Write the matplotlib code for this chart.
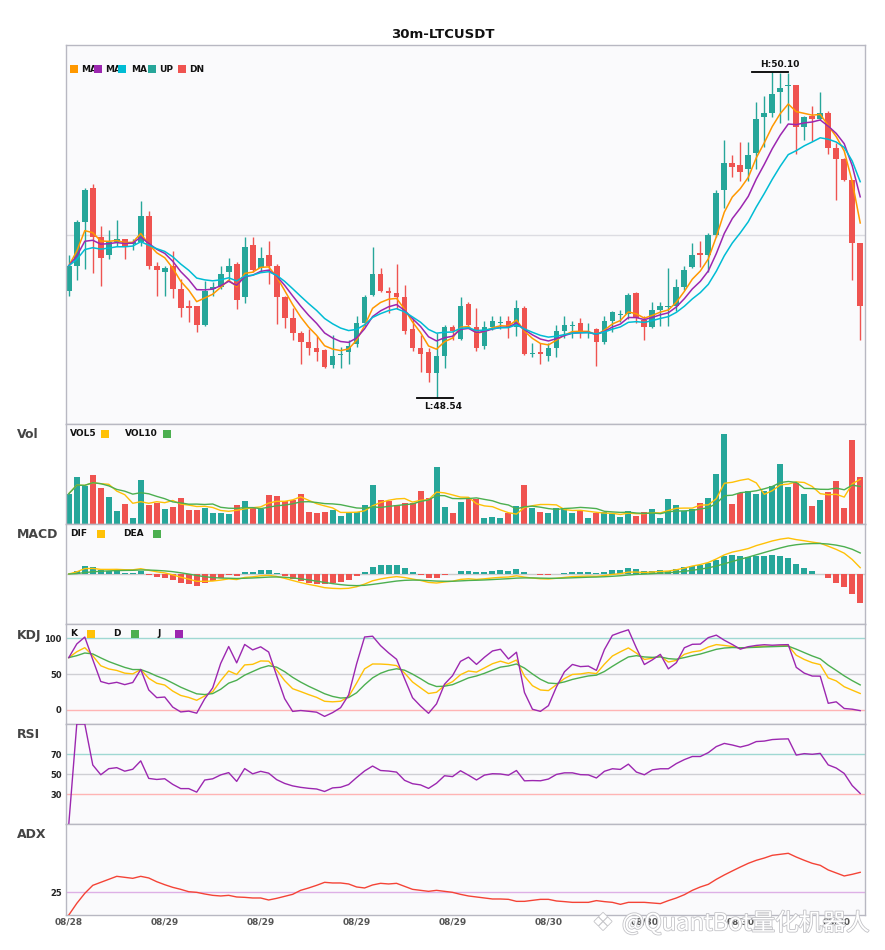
import numpy as np
import pandas as pd
import matplotlib
matplotlib.use('Agg')
import matplotlib.pyplot as plt
from matplotlib.patches import Rectangle
from matplotlib.transforms import Bbox, TransformedBbox
import matplotlib.patheffects as pe

# ---------------- data ----------------
opens = [49.052, 49.171, 49.382, 49.544, 49.310, 49.224, 49.286, 49.300, 49.276, 49.286,
         49.410, 49.171, 49.143, 49.171, 49.061, 48.980, 48.980, 48.889, 49.061, 49.071,
         49.143, 49.181, 49.023, 49.272, 49.162, 49.224, 49.171, 49.023, 48.922, 48.851,
         48.808, 48.779, 48.769, 48.698, 48.745, 48.760, 48.798, 48.899, 49.033, 49.133,
         49.052, 49.042, 49.023, 48.870, 48.779, 48.760, 48.659, 48.741, 48.879, 48.822,
         48.989, 48.879, 48.789, 48.879, 48.899, 48.908, 48.879, 48.970, 48.750, 48.760,
         48.741, 48.779, 48.860, 48.884, 48.899, 48.851, 48.870, 48.808, 48.908, 48.937,
         48.942, 49.042, 48.913, 48.879, 48.961, 48.975, 48.980, 49.071, 49.166, 49.233,
         49.224, 49.320, 49.535, 49.664, 49.654, 49.635, 49.712, 49.884, 49.903, 50.004,
         50.033, 50.037, 49.836, 49.889, 49.875, 49.903, 49.736, 49.683, 49.583, 49.281]
highs = [49.224, 49.391, 49.544, 49.564, 49.363, 49.343, 49.391, 49.300, 49.300, 49.482,
         49.434, 49.190, 49.171, 49.243, 49.109, 49.009, 48.980, 49.100, 49.095, 49.171,
         49.209, 49.190, 49.310, 49.310, 49.262, 49.291, 49.181, 49.028, 48.970, 48.860,
         48.870, 48.836, 48.774, 48.841, 48.784, 48.817, 48.932, 49.033, 49.262, 49.162,
         49.071, 49.181, 49.080, 48.922, 48.841, 48.779, 48.851, 48.889, 48.889, 49.023,
         48.999, 48.970, 48.908, 48.932, 48.932, 48.932, 49.009, 48.980, 48.803, 48.803,
         48.803, 48.889, 48.932, 48.908, 48.922, 48.899, 48.875, 48.932, 48.956, 48.961,
         49.042, 49.047, 48.932, 48.999, 48.999, 49.162, 49.109, 49.171, 49.281, 49.291,
         49.329, 49.535, 49.774, 49.702, 49.765, 49.765, 49.956, 49.985, 50.100, 50.095,
         50.095, 50.037, 49.889, 49.937, 50.004, 49.913, 49.760, 49.688, 49.583, 49.281]
lows = [49.028, 49.104, 49.157, 49.138, 49.076, 49.205, 49.267, 49.205, 49.248, 49.267,
        49.157, 49.028, 49.028, 49.018, 48.927, 48.903, 48.856, 48.884, 49.028, 49.061,
        49.104, 48.966, 48.994, 49.143, 49.143, 49.085, 48.894, 48.875, 48.817, 48.702,
        48.745, 48.717, 48.683, 48.683, 48.683, 48.702, 48.784, 48.884, 49.028, 49.047,
        48.946, 48.966, 48.846, 48.765, 48.664, 48.616, 48.540, 48.683, 48.817, 48.817,
        48.884, 48.765, 48.774, 48.865, 48.870, 48.827, 48.836, 48.745, 48.736, 48.702,
        48.717, 48.736, 48.827, 48.827, 48.827, 48.827, 48.693, 48.798, 48.856, 48.903,
        48.918, 48.899, 48.817, 48.875, 48.884, 48.884, 48.956, 49.056, 49.162, 49.166,
        49.143, 49.310, 49.449, 49.597, 49.578, 49.578, 49.635, 49.741, 49.884, 49.855,
        49.870, 49.707, 49.774, 49.769, 49.870, 49.707, 49.487, 49.578, 49.104, 48.817]
closes = [49.171, 49.382, 49.535, 49.310, 49.209, 49.286, 49.300, 49.262, 49.286, 49.410,
          49.171, 49.152, 49.162, 49.061, 48.970, 48.970, 48.889, 49.052, 49.071, 49.133,
          49.171, 49.009, 49.262, 49.152, 49.209, 49.171, 49.023, 48.922, 48.851, 48.808,
          48.779, 48.760, 48.688, 48.741, 48.750, 48.789, 48.899, 49.023, 49.133, 49.052,
          49.042, 49.023, 48.860, 48.779, 48.750, 48.659, 48.741, 48.879, 48.860, 48.980,
          48.889, 48.779, 48.879, 48.908, 48.903, 48.879, 48.970, 48.750, 48.755, 48.750,
          48.779, 48.860, 48.889, 48.889, 48.860, 48.856, 48.808, 48.908, 48.951, 48.942,
          49.033, 48.922, 48.879, 48.961, 48.980, 48.980, 49.071, 49.152, 49.224, 49.224,
          49.320, 49.521, 49.664, 49.645, 49.621, 49.702, 49.875, 49.903, 49.994, 50.023,
          50.037, 49.836, 49.884, 49.875, 49.903, 49.736, 49.683, 49.583, 49.281, 48.980]
volumes = [30.3, 47.3, 38.3, 49.3, 36.3, 27.3, 13.3, 20.3, 6.3, 44.3,
           19.3, 21.3, 15.3, 17.3, 26.3, 14.3, 14.3, 16.3, 11.3, 11.3,
           10.3, 19.3, 23.3, 17.3, 15.3, 29.3, 28.3, 23.3, 24.3, 30.3,
           12.3, 11.3, 12.3, 14.3, 7.7, 12.3, 12.3, 19.3, 39.3, 24.3,
           23.3, 19.3, 21.3, 21.3, 33.3, 26.3, 57.3, 17.3, 11.3, 22.3,
           25.3, 25.3, 6.3, 7.3, 6.3, 11.3, 18.3, 39.3, 16.3, 12.3,
           11.3, 16.3, 16.3, 11.3, 13.3, 6.3, 11.3, 12.3, 10.3, 7.3,
           13.3, 8.3, 12.3, 15.3, 6.3, 25.3, 19.3, 13.3, 15.3, 21.3,
           26.3, 50.3, 90.3, 20.3, 31.3, 33.3, 30.3, 33.3, 38.3, 60.3,
           37.3, 41.3, 30.3, 18.3, 24.3, 32.3, 43.3, 16.3, 84.3, 47.3]
adx_values = [0.0, 12.8, 23.8, 32.6, 35.9, 39.2, 42.5, 41.4, 40.3, 42.5,
              40.7, 36.6, 33.3, 30.4, 28.2, 25.6, 24.9, 23.1, 21.6, 20.9,
              21.6, 19.8, 19.4, 18.7, 18.7, 16.5, 18.3, 20.5, 22.7, 27.1,
              29.7, 32.6, 35.9, 35.2, 35.2, 34.1, 30.8, 29.7, 33.0, 34.8,
              34.1, 34.8, 31.5, 28.2, 27.1, 26.0, 27.1, 26.0, 24.9, 22.7,
              20.9, 19.8, 18.7, 17.6, 17.6, 17.2, 15.0, 15.0, 16.1, 17.2,
              17.2, 15.4, 14.7, 13.9, 13.9, 13.9, 15.8, 14.7, 13.9, 11.7,
              13.9, 13.9, 13.9, 13.2, 12.5, 15.8, 18.7, 22.3, 27.1, 30.8,
              33.7, 39.2, 44.0, 48.4, 52.7, 56.8, 60.1, 62.6, 65.6, 66.7,
              67.8, 63.7, 60.1, 56.8, 54.6, 49.5, 46.2, 42.9, 44.7, 46.9]
xtick_labels = ['08/28', '08/29', '08/29', '08/29', '08/29', '08/30', '08/30', '08/30', '08/30']
ma_periods = [5, 8, 13]
title = '30m-LTCUSDT'

# ---------------- indicators ----------------
df = pd.DataFrame({'open': opens, 'high': highs, 'low': lows, 'close': closes, 'vol': volumes})
n = len(df)
x = np.arange(n)
c = df['close']
up = (df['close'] >= df['open']).values

mas = [c.ewm(span=p, adjust=False).mean() for p in ma_periods]
vol5 = df['vol'].rolling(5, min_periods=1).mean()
vol10 = df['vol'].rolling(10, min_periods=1).mean()

dif = c.ewm(span=12, adjust=False).mean() - c.ewm(span=26, adjust=False).mean()
dea = dif.ewm(span=9, adjust=False).mean()
hist = 2 * (dif - dea)

low9 = df['low'].rolling(9, min_periods=1).min()
high9 = df['high'].rolling(9, min_periods=1).max()
rsv = ((c - low9) / (high9 - low9) * 100).fillna(50)
K = rsv.ewm(com=2, adjust=False).mean()
D = K.ewm(com=2, adjust=False).mean()
J = 3 * K - 2 * D

delta = c.diff()
gain = delta.clip(lower=0)
loss = -delta.clip(upper=0)
ag = gain.ewm(com=13, adjust=True).mean()
al = loss.ewm(com=13, adjust=True).mean()
rsi = (100 * ag / (ag + al)).fillna(0)

# ---------------- style ----------------
UP_C, DN_C = '#26a69a', '#ef5350'
MA_C = ['#ff9800', '#9c27b0', '#00bcd4']
YEL, GRN, PUR = '#ffc107', '#4caf50', '#9c27b0'
BG = '#fafafc'
SP = '#b8b8c2'
W_FIG, H_FIG = 885, 950

fig = plt.figure(figsize=(8.85, 9.5), dpi=100)
fig.patch.set_facecolor('white')

def box(top, bottom):
    return [66 / W_FIG, 1 - bottom / H_FIG, 799 / W_FIG, (bottom - top) / H_FIG]

ax_main = fig.add_axes(box(45, 424))
ax_vol = fig.add_axes(box(424, 524))
ax_macd = fig.add_axes(box(524, 624))
ax_kdj = fig.add_axes(box(624, 724))
ax_rsi = fig.add_axes(box(724, 824))
ax_adx = fig.add_axes(box(824, 915))
axes = [ax_main, ax_vol, ax_macd, ax_kdj, ax_rsi, ax_adx]
for a in axes:
    a.set_facecolor(BG)
    a.set_xlim(-0.35, n - 0.4)
    for s in a.spines.values():
        s.set_color(SP)
        s.set_linewidth(1)
    a.tick_params(axis='both', length=0, labelsize=6, colors='#222', pad=3)
    a.set_xticks([])
    a.set_yticks([])

# ---- main candles ----
colors = np.where(up, UP_C, DN_C)
ax_main.vlines(x, df['low'], df['high'], colors=colors, linewidth=1, zorder=2)
body_bot = np.minimum(df['open'], df['close'])
body_h = np.maximum((df['close'] - df['open']).abs(), 0.005)
ax_main.bar(x, body_h, bottom=body_bot, width=0.72, color=colors, zorder=2, linewidth=0)
for m, col in zip(mas, MA_C):
    ax_main.plot(x, m, color=col, lw=1.1, zorder=3)
hi_v, lo_v = df['high'].max(), df['low'].min()
rng = hi_v - lo_v
ymin, ymax = lo_v - 0.081 * rng, hi_v + 0.082 * rng
ax_main.set_ylim(ymin, ymax)
ax_main.axhline((ymin + ymax) / 2, color='#dcdce2', lw=1, zorder=1)
hi_i = int(df['high'].values.argmax())
lo_i = int(df['low'].values.argmin())
ax_main.plot([hi_i - 2.5, hi_i + 2.0], [hi_v, hi_v], color='black', lw=1.3, zorder=4)
ax_main.annotate(f'H:{hi_v:.2f}', (hi_i - 1.5, hi_v), xytext=(0, 5.2), textcoords='offset points',
                 ha='left', va='center', fontsize=6.5, fontweight='bold', color='#111')
ax_main.plot([lo_i - 2.5, lo_i + 2.0], [lo_v, lo_v], color='black', lw=1.3, zorder=4)
ax_main.annotate(f'L:{lo_v:.2f}', (lo_i - 1.5, lo_v), xytext=(0, -6.6), textcoords='offset points',
                 ha='left', va='center', fontsize=6.5, fontweight='bold', color='#111')

# ---- volume ----
ax_vol.bar(x, df['vol'], width=0.75, color=colors, linewidth=0, zorder=2)
ax_vol.plot(x, vol5, color=YEL, lw=1.0, zorder=3)
ax_vol.plot(x, vol10, color=GRN, lw=1.0, zorder=3)
ax_vol.set_ylim(0, df['vol'].max() * 1.107)

# ---- MACD ----
hcol = np.where(hist >= 0, UP_C, DN_C)
ax_macd.axhline(0, color='#cccccc', lw=1, zorder=1)
ax_macd.bar(x, hist, width=0.75, color=hcol, linewidth=0, zorder=2)
ax_macd.plot(x, dif, color=YEL, lw=1.0, zorder=3)
ax_macd.plot(x, dea, color=GRN, lw=1.0, zorder=3)
mabs = max(np.abs(hist).max(), np.abs(dif).max(), np.abs(dea).max())
ax_macd.set_ylim(-mabs * 1.39, mabs * 1.39)

# ---- KDJ ----
ax_kdj.axhline(100, color='#9fd8d3', lw=1, zorder=1)
ax_kdj.axhline(50, color='#cfcfd4', lw=1, zorder=1)
ax_kdj.axhline(0, color='#ffb4b4', lw=1, zorder=1)
ax_kdj.plot(x, K, color=YEL, lw=1.0, zorder=3)
ax_kdj.plot(x, D, color=GRN, lw=1.0, zorder=3)
ax_kdj.plot(x, J, color=PUR, lw=1.0, zorder=3)
ax_kdj.set_ylim(-20, 120)
ax_kdj.set_yticks([0, 50, 100])
ax_kdj.set_yticklabels(['0', '50', '100'], fontweight='bold')

# ---- RSI ----
ax_rsi.axhline(70, color='#9fd8d3', lw=1, zorder=1)
ax_rsi.axhline(50, color='#cfcfd4', lw=1, zorder=1)
ax_rsi.axhline(30, color='#ffb4b4', lw=1, zorder=1)
ax_rsi.plot(x, rsi, color=PUR, lw=1.0, zorder=3)
ax_rsi.set_ylim(0, 100)
ax_rsi.set_yticks([30, 50, 70])
ax_rsi.set_yticklabels(['30', '50', '70'], fontweight='bold')

# ---- ADX ----
ax_adx.axhline(25, color='#ddb0e6', lw=1, zorder=1)
ax_adx.plot(x, adx_values, color='#f44336', lw=1.0, zorder=3)
ax_adx.set_ylim(0, 100)
ax_adx.set_yticks([25])
ax_adx.set_yticklabels(['25'], fontweight='bold')
ax_adx.set_xticks(np.arange(0, n, 12))
ax_adx.set_xticklabels(xtick_labels, fontsize=6.5, fontweight='bold', color='#555')
ax_adx.tick_params(axis='x', pad=2)

# ---------------- texts / legends ----------------
def fx(px):
    return px / W_FIG

def fy(py):
    return 1 - py / H_FIG

fig.text(0.5, fy(34), title, ha='center', va='center', fontsize=9.5, fontweight='bold', color='#111')

for lab, py in [('Vol', 435), ('MACD', 535), ('KDJ', 635), ('RSI', 735), ('ADX', 835)]:
    fig.text(fx(17), fy(py), lab, ha='left', va='center', fontsize=9, fontweight='bold', color='#444')

def square(px, py, col):
    fig.add_artist(Rectangle((fx(px), fy(py + 4)), 8 / W_FIG, 8 / H_FIG, transform=fig.transFigure,
                             facecolor=col, edgecolor='none', zorder=11))

def label(px, py, s, clip_right=None):
    t = fig.text(fx(px), fy(py), s, ha='left', va='center', fontsize=6.5, fontweight='bold',
                 color='#111', zorder=10)
    if clip_right is not None:
        bb = Bbox.from_extents(fx(px - 2), fy(py + 8), fx(clip_right), fy(py - 8))
        t.set_clip_box(TransformedBbox(bb, fig.transFigure))
        t.set_clip_on(True)
    return t

# main legend (square then label; each label is cut by the next entry's square)
main_items = [(70, 81, MA_C[0], f'MA{ma_periods[0]}'), (94, 105, MA_C[1], f'MA{ma_periods[1]}'),
              (118, 131, MA_C[2], f'MA{ma_periods[2]}'), (148, 159, UP_C, 'UP'), (178, 189, DN_C, 'DN')]
for k, (sx, tx, col, s) in enumerate(main_items):
    square(sx, 69, col)
    nxt = main_items[k + 1][0] if k + 1 < len(main_items) else None
    label(tx, 69, s, clip_right=nxt)

# sub legends (label then square)
for items, py in [([('VOL5', 70, 101, YEL), ('VOL10', 125, 163, GRN)], 434),
                  ([('DIF', 70, 97, YEL), ('DEA', 123, 153, GRN)], 534),
                  ([('K', 70, 87, YEL), ('D', 113, 131, GRN), ('J', 157, 175, PUR)], 634)]:
    for s, tx, sx, col in items:
        label(tx, py, s)
        square(sx, py, col)

# watermark
wm_fx = [pe.withStroke(linewidth=1.2, foreground='#c4c4c8')]
fig.text(fx(603), fy(923), '\u2756', ha='center', va='center', fontsize=17, color='white',
         family='DejaVu Sans', path_effects=wm_fx, zorder=20)
fig.text(fx(622), fy(923), '@QuantBot量化机器人', ha='left', va='center', fontsize=17,
         color='white', family=['Noto Sans CJK SC', 'DejaVu Sans'], path_effects=wm_fx, zorder=20)

fig.savefig('out.png', dpi=100, facecolor='white')
